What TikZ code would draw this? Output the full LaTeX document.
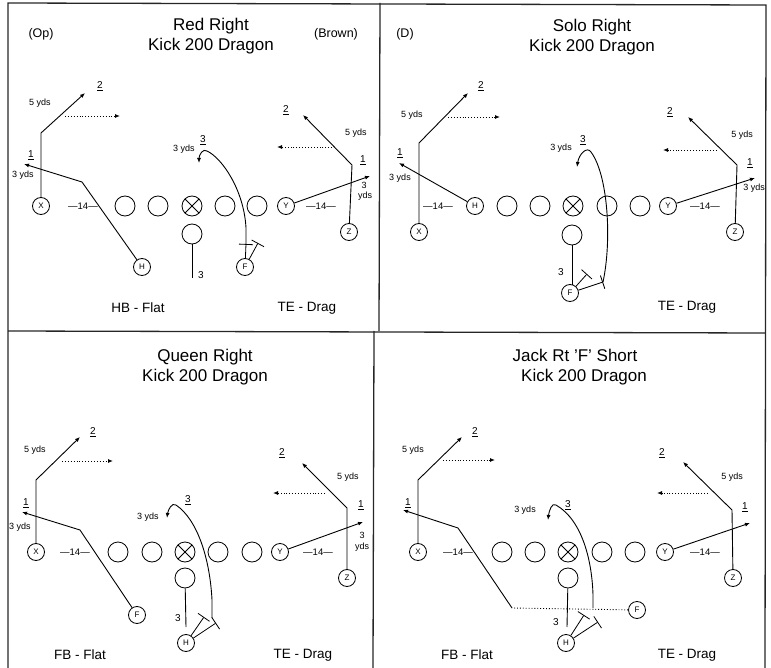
\documentclass[tikz,border=0pt]{standalone}
\usepackage{fontspec}
\setmainfont{Liberation Sans}
\usetikzlibrary{arrows.meta}
\begin{document}
\begin{tikzpicture}[x=1pt,y=-1pt,
  fr/.style={line width=1.3pt, black!85},
  plr/.style={circle, draw, line width=0.8pt, minimum size=17pt, inner sep=0pt, font=\fontsize{8}{8}\selectfont},
  lin/.style={circle, draw, line width=0.8pt, minimum size=20pt, inner sep=0pt},
  ctr/.style={lin, path picture={\draw[line width=0.8pt] (path picture bounding box.north west) -- (path picture bounding box.south east) (path picture bounding box.north east) -- (path picture bounding box.south west);}},
  rt/.style={line width=0.9pt, -{Latex[length=5pt,width=4pt]}},
  dt/.style={line width=0.9pt, dotted, -{Latex[length=5pt,width=4pt]}},
  dl/.style={line width=0.9pt, dotted},
  blk/.style={line width=0.8pt, -{Bar[width=14pt,line width=0.8pt]}},
  ln/.style={line width=0.9pt},
  ttl/.style={font=\fontsize{17}{20}\selectfont, anchor=base},
  sd/.style={font=\fontsize{12.5}{14}\selectfont},
  ft/.style={font=\fontsize{13.5}{16}\selectfont},
  sm/.style={font=\fontsize{9}{10}\selectfont, inner sep=1pt},
  nm/.style={font=\fontsize{10}{11}\selectfont, inner sep=1pt},
  fourteen/.style={font=\fontsize{9.5}{10}\selectfont, inner sep=1pt}
]
\useasboundingbox (0,0) rectangle (771,668);
% frame
\draw[fr] (8,668) -- (8,3) -- (766,5) -- (765,668);
\draw[fr] (380,3) -- (379,331);
\draw[fr] (374,331) -- (373,668);
\draw[fr] (8,331) -- (765,333);

% ================= TOP LEFT =================
\node[ttl] (T1a) at (211,31) {Red Right};
\node[ttl] (T1b) at (211,51) {Kick 200 Dragon};
\node[sd] (op) at (41,34) {(Op)};
\node[sd] (brn) at (336,34) {(Brown)};
\node[plr] (X1) at (41,206) {X};
\node[fourteen] (fa1) at (83,206) {—14—};
\node[lin] (La1) at (125,206) {};
\node[lin] (Lb1) at (158,206) {};
\node[ctr] (C1) at (192,206) {};
\node[lin] (Lc1) at (225,206) {};
\node[lin] (Ld1) at (257,206) {};
\node[plr] (Y1) at (286,206) {Y};
\node[fourteen] (fb1) at (321,206) {—14—};
\node[plr] (Z1) at (349,232) {Z};
\node[lin] (B1) at (192,234) {};
\node[plr] (H1) at (142,267) {H};
\node[plr] (F1) at (245,267) {F};
% X route
\coordinate (x1b) at (41,133);
\coordinate (x1e) at (85,93);
\draw[rt] (X1) -- (x1b) -- (x1e);
\node[nm] (n1x) at (100,86) {\underline{2}};
\node[sm] (y1x) at (40,103) {5 yds};
\coordinate (d1s) at (65,116); \coordinate (d1e) at (120,116);
\draw[dt] (d1s) -- (d1e);
% H route
\coordinate (h1b) at (82,182);
\coordinate (h1e) at (24,164);
\draw[rt] (H1) -- (h1b) -- (h1e);
\node[nm] (n1h) at (31,155) {\underline{1}};
\node[sm] (y1h) at (23,175) {3 yds};
% F route
\coordinate (f1c) at (246,244);
\coordinate (f1d) at (258,243);
\draw[blk] (F1) -- (f1c);
\draw[blk] (F1) -- (f1d);
\coordinate (f1h) at (207,151);
\coordinate (f1e) at (199,163);
\draw[rt] (f1c) -- (246,228) .. controls (244,190) and (222,158) .. (f1h) .. controls (203,148) and (199,155) .. (f1e);
\node[nm] (n1f) at (203,140) {\underline{3}};
\node[sm] (y1f) at (184,149) {3 yds};
% back
\coordinate (b1e) at (192,278);
\draw[ln] (B1) -- (b1e);
\node[nm] (n1b) at (201,275) {3};
% Y route
\coordinate (y1e) at (370,176);
\draw[rt] (Y1) -- (y1e);
\node[nm] (n1y) at (363,160) {\underline{1}};
\node[sm] (t1y) at (364,185) {3};
\node[sm] (u1y) at (365,196) {yds};
% Z route
\coordinate (z1b) at (352,165);
\coordinate (z1e) at (303,115);
\draw[rt] (Z1) -- (z1b) -- (z1e);
\node[nm] (n1z) at (286,110) {\underline{2}};
\node[sm] (y1z) at (356,133) {5 yds};
\coordinate (d1a) at (332,147); \coordinate (d1b) at (277,147);
\draw[dt] (d1a) -- (d1b);
\node[ft] (hb1) at (138,308) {HB - Flat};
\node[ft] (te1) at (307,308) {TE - Drag};

% ================= TOP RIGHT =================
\node[ttl] (T2a) at (592,32) {Solo Right};
\node[ttl] (T2b) at (592,52) {Kick 200 Dragon};
\node[sd] (dd) at (405,34) {(D)};
\node[fourteen] (fa2) at (438,206) {—14—};
\node[plr] (H2) at (475,206) {H};
\node[lin] (La2) at (507,206) {};
\node[lin] (Lb2) at (540,206) {};
\node[ctr] (C2) at (573,206) {};
\node[lin] (Lc2) at (607,206) {};
\node[lin] (Ld2) at (640,206) {};
\node[plr] (Y2) at (668,206) {Y};
\node[fourteen] (fb2) at (705,206) {—14—};
\node[plr] (X2) at (419,232) {X};
\node[plr] (Z2) at (735,232) {Z};
\node[lin] (B2) at (572,235) {};
\node[plr] (F2) at (570,293) {F};
% X route
\coordinate (x2b) at (419,143);
\coordinate (x2e) at (468,93);
\draw[rt] (X2) -- (x2b) -- (x2e);
\node[nm] (n2x) at (481,86) {\underline{2}};
\node[sm] (y2x) at (412,115) {5 yds};
\coordinate (d2s) at (448,117); \coordinate (d2e) at (500,117);
\draw[dt] (d2s) -- (d2e);
% H route
\coordinate (h2e) at (399,163);
\draw[rt] (H2) -- (h2e);
\node[nm] (n2h) at (400,153) {\underline{1}};
\node[sm] (y2h) at (400,178) {3 yds};
% F route
\coordinate (f2c) at (587,274);
\coordinate (f2d) at (603,282);
\draw[blk] (F2) -- (f2c);
\draw[blk] (F2) -- (f2d);
\coordinate (f2h) at (591,152);
\coordinate (f2e) at (577,167);
\draw[rt] (f2d) .. controls (612,240) and (608,175) .. (f2h) .. controls (587,146) and (579,154) .. (f2e);
\node[nm] (n2f) at (583,140) {\underline{3}};
\node[sm] (y2f) at (561,148) {3 yds};
% back
\coordinate (b2e) at (572,285);
\draw[ln] (B2) -- (b2e);
\node[nm] (n2b) at (561,272) {3};
% Y route
\coordinate (y2e) at (755,178);
\draw[rt] (Y2) -- (y2e);
\node[nm] (n2y) at (750,163) {\underline{1}};
\node[sm] (y2y) at (754,188) {3 yds};
% Z route
\coordinate (z2b) at (737,165);
\coordinate (z2e) at (688,117);
\draw[rt] (Z2) -- (z2b) -- (z2e);
\node[nm] (n2z) at (670,112) {\underline{2}};
\node[sm] (y2z) at (742,135) {5 yds};
\coordinate (d2a) at (717,150); \coordinate (d2b) at (663,150);
\draw[dt] (d2a) -- (d2b);
\node[ft] (te2) at (687,307) {TE - Drag};

% ================= BOTTOM LEFT =================
\node[ttl] (T3a) at (205,361) {Queen Right};
\node[ttl] (T3b) at (205,381) {Kick 200 Dragon};
\node[plr] (X3) at (36,552) {X};
\node[fourteen] (fa3) at (75,552) {—14—};
\node[lin] (La3) at (118,552) {};
\node[lin] (Lb3) at (152,552) {};
\node[ctr] (C3) at (185,552) {};
\node[lin] (Lc3) at (218,552) {};
\node[lin] (Ld3) at (252,552) {};
\node[plr] (Y3) at (280,552) {Y};
\node[fourteen] (fb3) at (318,552) {—14—};
\node[plr] (Z3) at (347,578) {Z};
\node[lin] (B3) at (185,578) {};
\node[plr] (F3) at (137,615) {F};
\node[plr] (H3) at (186,643) {H};
% X route
\coordinate (x3b) at (36,480);
\coordinate (x3e) at (80,437);
\draw[rt] (X3) -- (x3b) -- (x3e);
\node[nm] (n3x) at (93,432) {\underline{2}};
\node[sm] (y3x) at (35,450) {5 yds};
\coordinate (d3s) at (62,461); \coordinate (d3e) at (113,461);
\draw[dt] (d3s) -- (d3e);
% F route
\coordinate (f3b) at (80,530);
\coordinate (f3e) at (22,512);
\draw[rt] (F3) -- (f3b) -- (f3e);
\node[nm] (n3f) at (26,503) {\underline{1}};
\node[sm] (y3f) at (20,527) {3 yds};
% H route
\coordinate (h3c) at (204,617);
\coordinate (h3d) at (216,623);
\draw[blk] (H3) -- (h3c);
\draw[blk] (H3) -- (h3d);
\coordinate (h3s) at (212,618);
\coordinate (h3h) at (176,505);
\coordinate (h3e) at (167,518);
\draw[rt] (h3s) -- (212,600) .. controls (210,560) and (198,520) .. (h3h) .. controls (172,502) and (168,510) .. (h3e);
\node[nm] (n3h) at (188,500) {\underline{3}};
\node[sm] (y3h) at (148,517) {3 yds};
% back
\coordinate (b3e) at (186,627);
\draw[ln] (B3) -- (b3e);
\node[nm] (n3b) at (178,618) {3};
% Y route
\coordinate (y3e) at (363,522);
\draw[rt] (Y3) -- (y3e);
\node[nm] (n3y) at (361,505) {\underline{1}};
\node[sm] (t3y) at (362,535) {3};
\node[sm] (u3y) at (362,547) {yds};
% Z route
\coordinate (z3b) at (347,508);
\coordinate (z3e) at (302,463);
\draw[rt] (Z3) -- (z3b) -- (z3e);
\node[nm] (n3z) at (282,453) {\underline{2}};
\node[sm] (y3z) at (348,477) {5 yds};
\coordinate (d3a) at (325,493); \coordinate (d3b) at (273,493);
\draw[dt] (d3a) -- (d3b);
\node[ft] (fb3t) at (80,655) {FB - Flat};
\node[ft] (te3) at (303,655) {TE - Drag};

% ================= BOTTOM RIGHT =================
\node[ttl] (T4a) at (575,361) {Jack Rt 'F' Short};
\node[ttl] (T4b) at (584,381) {Kick 200 Dragon};
\node[plr] (X4) at (418,552) {X};
\node[fourteen] (fa4) at (458,552) {—14—};
\node[lin] (La4) at (502,552) {};
\node[lin] (Lb4) at (535,552) {};
\node[ctr] (C4) at (568,552) {};
\node[lin] (Lc4) at (602,552) {};
\node[lin] (Ld4) at (635,552) {};
\node[plr] (Y4) at (665,552) {Y};
\node[fourteen] (fb4) at (705,552) {—14—};
\node[plr] (Z4) at (733,578) {Z};
\node[lin] (B4) at (568,578) {};
\node[plr] (H4) at (566,643) {H};
\node[plr] (F4) at (637,610) {F};
% X route
\coordinate (x4b) at (418,480);
\coordinate (x4e) at (462,437);
\draw[rt] (X4) -- (x4b) -- (x4e);
\node[nm] (n4x) at (475,432) {\underline{2}};
\node[sm] (y4x) at (413,450) {5 yds};
\coordinate (d4s) at (443,460); \coordinate (d4e) at (495,460);
\draw[dt] (d4s) -- (d4e);
% F route
\coordinate (f4a) at (512,608);
\coordinate (f4b) at (458,528);
\coordinate (f4e) at (403,510);
\draw[dl] (F4) -- (f4a);
\draw[rt] (f4a) -- (f4b) -- (f4e);
\node[nm] (n4f) at (408,503) {\underline{1}};
% H route
\coordinate (h4c) at (584,615);
\coordinate (h4d) at (598,622);
\draw[blk] (H4) -- (h4c);
\draw[blk] (H4) -- (h4d);
\coordinate (h4s) at (593,608);
\coordinate (h4h) at (556,505);
\coordinate (h4e) at (548,520);
\draw[rt] (h4s) -- (593,595) .. controls (592,560) and (582,520) .. (h4h) .. controls (552,502) and (549,511) .. (h4e);
\node[nm] (n4h) at (568,505) {\underline{3}};
\node[sm] (y4h) at (525,510) {3 yds};
% back
\coordinate (b4e) at (567,627);
\draw[ln] (B4) -- (b4e);
\node[nm] (n4b) at (556,622) {3};
% Y route
\coordinate (y4e) at (750,523);
\draw[rt] (Y4) -- (y4e);
\node[nm] (n4y) at (745,507) {\underline{1}};
% Z route
\coordinate (z4b) at (732,510);
\coordinate (z4e) at (683,462);
\draw[rt] (Z4) -- (z4b) -- (z4e);
\node[nm] (n4z) at (662,453) {\underline{2}};
\node[sm] (y4z) at (732,477) {5 yds};
\coordinate (d4a) at (708,493); \coordinate (d4b) at (657,493);
\draw[dt] (d4a) -- (d4b);
\node[ft] (fb4t) at (467,655) {FB - Flat};
\node[ft] (te4) at (687,655) {TE - Drag};
\end{tikzpicture}
\end{document}
